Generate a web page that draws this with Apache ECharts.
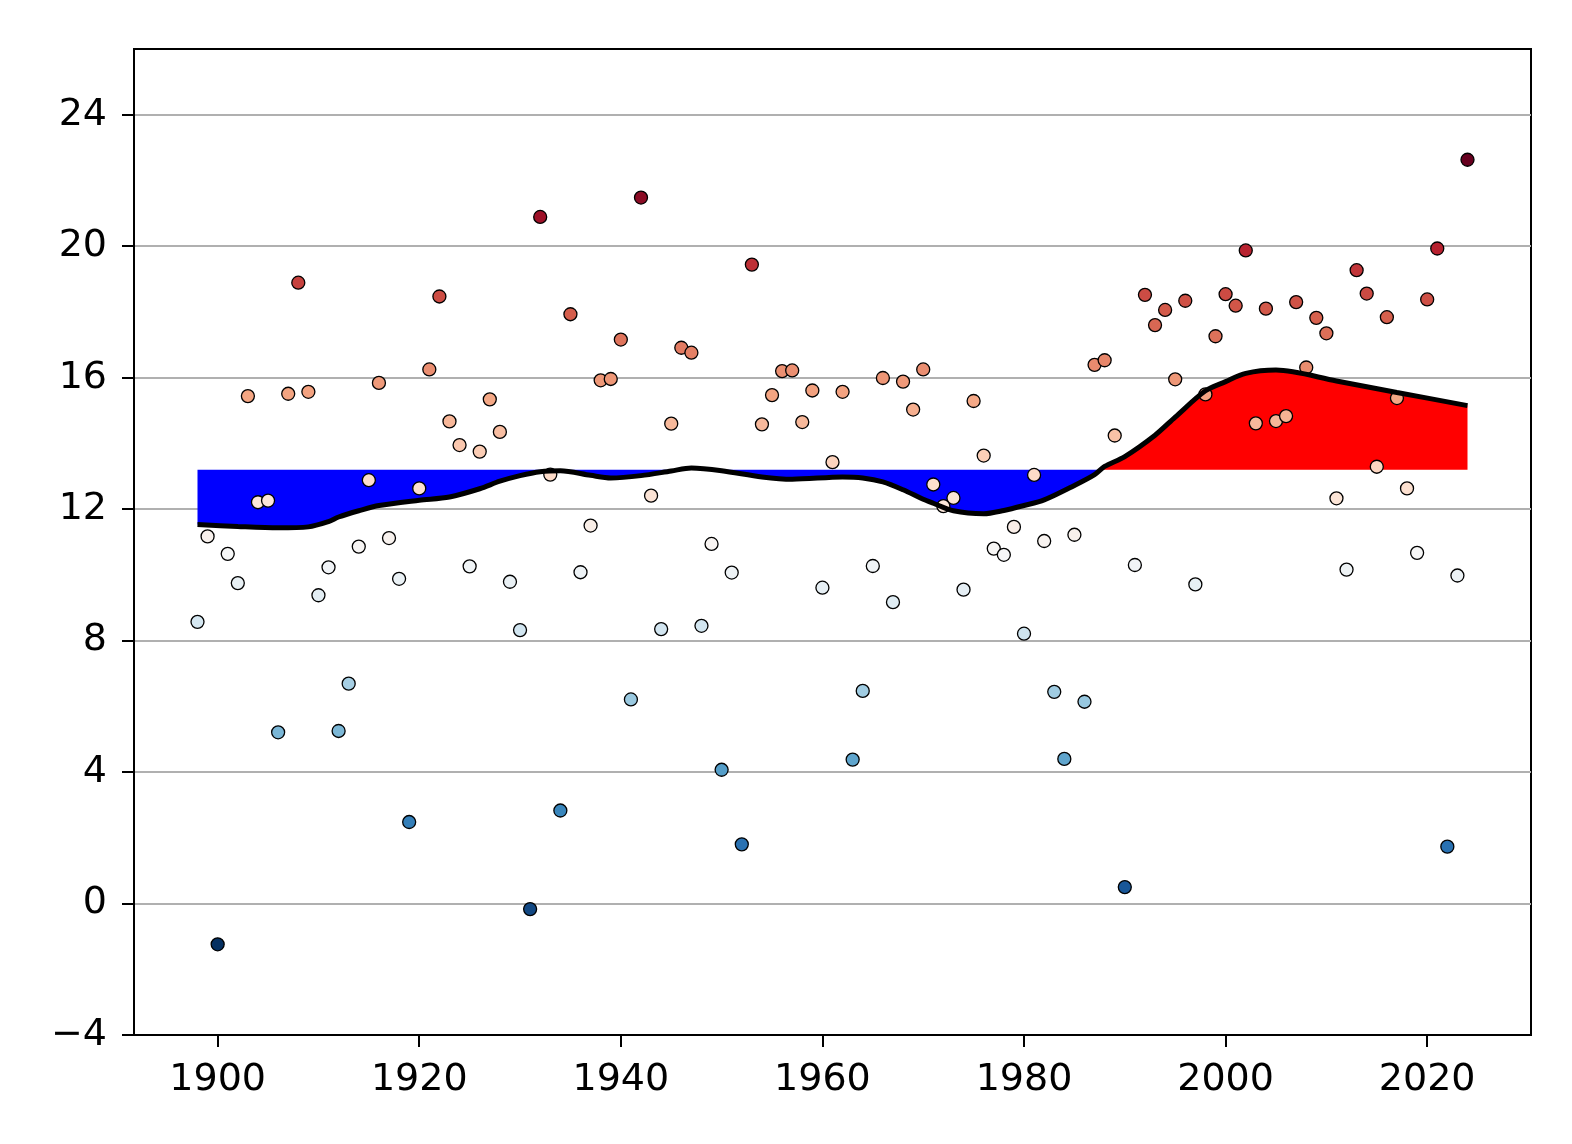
<!DOCTYPE html>
<html><head><meta charset="utf-8">
<script src="https://cdn.jsdelivr.net/npm/echarts@6/dist/echarts.min.js"></script>
<style>html,body{margin:0;padding:0;background:#fff}#c{width:1572px;height:1144px}</style>
</head><body><div id="c"></div>
<script>
const years = [1898,1899,1900,1901,1902,1903,1904,1905,1906,1907,1908,1909,1910,1911,1912,1913,1914,1915,1916,1917,1918,1919,
1920,1921,1922,1923,1924,1925,1926,1927,1928,1929,1930,1931,1932,1933,1934,1935,1936,1937,1938,1939,
1940,1941,1942,1943,1944,1945,1946,1947,1948,1949,1950,1951,1952,1953,1954,1955,1956,1957,1958,1959,
1960,1961,1962,1963,1964,1965,1966,1967,1968,1969,1970,1971,1972,1973,1974,1975,1976,1977,1978,1979,
1980,1981,1982,1983,1984,1985,1986,1987,1988,1989,1990,1991,1992,1993,1994,1995,1996,1997,1998,1999,
2000,2001,2002,2003,2004,2005,2006,2007,2008,2009,2010,2011,2012,2013,2014,2015,2016,2017,2018,2019,
2020,2021,2022,2023,2024];
const values = [8.57,11.17,-1.24,10.64,9.75,15.44,12.21,12.26,5.21,15.51,18.89,15.57,9.38,10.23,5.25,6.69,10.86,12.88,15.84,11.12,9.88,2.48,
12.63,16.25,18.47,14.67,13.95,10.26,13.75,15.34,14.35,9.79,8.32,-0.17,20.89,13.05,2.83,17.93,10.08,11.50,15.92,15.96,
17.16,6.21,21.48,12.41,8.35,14.60,16.91,16.76,8.45,10.94,4.07,10.07,1.80,19.44,14.58,15.47,16.20,16.22,14.65,15.61,
9.61,13.43,15.57,4.38,6.47,10.27,15.99,9.17,15.88,15.03,16.25,12.75,12.09,12.34,9.55,15.29,13.63,10.80,10.61,11.46,
8.21,13.04,11.03,6.44,4.40,11.22,6.14,16.39,16.53,14.24,0.50,10.30,18.52,17.60,18.06,15.95,18.34,9.71,15.49,17.26,
18.54,18.19,19.87,14.61,18.10,14.68,14.83,18.30,16.31,17.82,17.35,12.33,10.16,19.27,18.56,13.29,17.84,15.38,12.63,10.67,
18.38,19.93,1.73,9.98,22.63];
const smoothYears = [1898,1902,1906,1909,1911,1912,1914,1916,1920,1923,1926,1928,1930,1932,1934,1937,1939,1942,1945,1947,1950,1954,1957,1962,1964,1966,1968,1970,1971,1973,1976,1978,1980,1982,1985,1987,1988,1990,1993,1995,1998,2000,2002,2005,2011,2017,2024];
const smoothValues = [11.53,11.47,11.43,11.46,11.62,11.76,11.95,12.11,12.27,12.37,12.62,12.85,13.02,13.14,13.17,13.03,12.95,13.02,13.16,13.25,13.17,12.98,12.91,12.98,12.95,12.83,12.59,12.30,12.18,11.95,11.86,11.96,12.11,12.28,12.72,13.05,13.30,13.60,14.25,14.80,15.60,15.88,16.13,16.23,15.90,15.55,15.15];
const baseline = 13.2;
const xTicks = [1900,1920,1940,1960,1980,2000,2020];
const yTicks = [-4,0,4,8,12,16,20,24];
const cmap = ['#053061','#2166ac','#4393c3','#92c5de','#d1e5f0','#f7f7f7','#fddbc7','#f4a582','#d6604d','#b2182b','#67001f'];

const scatterData = years.map((y,i)=>[y, values[i]]);
const lineData = smoothYears.map((y,i)=>[y, smoothValues[i]]);
// split the smooth curve where it crosses the baseline (last upward crossing)
let k = 0;
for (let i=1;i<smoothValues.length;i++){ if (smoothValues[i-1] < baseline && smoothValues[i] >= baseline) k = i; }
const t = (baseline - smoothValues[k-1])/(smoothValues[k]-smoothValues[k-1]);
const cross = [smoothYears[k-1] + t*(smoothYears[k]-smoothYears[k-1]), baseline];
const blueData = lineData.slice(0,k).concat([cross]);
const redData = [cross].concat(lineData.slice(k));

const FONT = 'DejaVu Sans';
const chart = echarts.init(document.getElementById('c'), null, {renderer:'canvas'});
chart.setOption({
  animation:false,
  backgroundColor:'#fff',
  grid:{left:134, right:41, top:49, bottom:109, show:true, borderColor:'#000', borderWidth:2, backgroundColor:'transparent'},
  xAxis:{type:'value', min:1891.7, max:2030.3,
    axisLine:{show:true, onZero:false, lineStyle:{color:'#000', width:2}},
    splitLine:{show:false},
    axisTick:{show:true, length:12, inside:false, lineStyle:{color:'#000', width:2}, customValues:xTicks},
    axisLabel:{customValues:xTicks, fontSize:38, fontFamily:FONT, color:'#000', margin:26,
      formatter:v=>String(v)}
  },
  yAxis:{type:'value', min:-4, max:26, interval:4,
    axisLine:{show:true, onZero:false, lineStyle:{color:'#000', width:2}},
    splitLine:{show:true, lineStyle:{color:'#b0b0b0', width:2}},
    axisTick:{show:true, length:12, lineStyle:{color:'#000', width:2}, customValues:yTicks},
    axisLabel:{customValues:yTicks, fontSize:38, fontFamily:FONT, color:'#000', margin:27,
      formatter:v=>String(v).replace('-', '\u2212')}
  },
  visualMap:{type:'continuous', show:false, seriesIndex:2, dimension:1,
    min:Math.min(...values), max:Math.max(...values), inRange:{color:cmap}},
  series:[
    {type:'line', data:blueData, smooth:0.3, symbol:'none', silent:true, z:1,
      lineStyle:{width:0}, areaStyle:{color:'#0000ff', opacity:1, origin:baseline}},
    {type:'line', data:redData, smooth:0.3, symbol:'none', silent:true, z:1,
      lineStyle:{width:0}, areaStyle:{color:'#ff0000', opacity:1, origin:baseline}},
    {type:'scatter', data:scatterData, symbol:'circle', symbolSize:13, z:2,
      itemStyle:{borderColor:'#000', borderWidth:1.3, opacity:1}},
    {type:'line', data:lineData, smooth:0.3, symbol:'none', silent:true, z:3,
      lineStyle:{color:'#000', width:5}}
  ]
});
</script></body></html>
